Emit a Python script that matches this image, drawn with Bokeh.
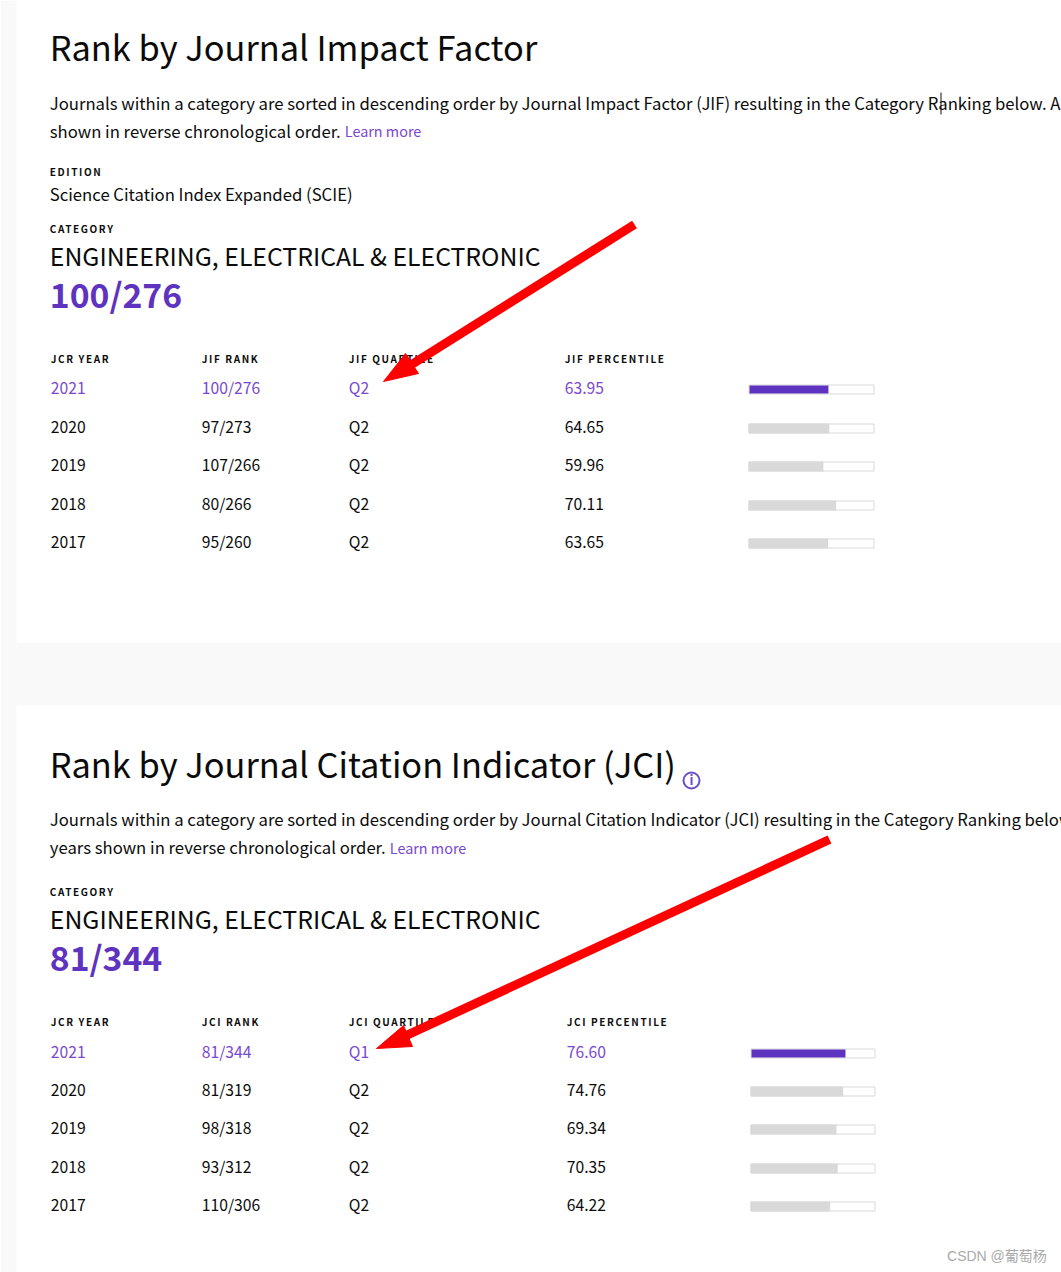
from bokeh.core.properties import value
from bokeh.embed import file_html
from bokeh.layouts import column
from bokeh.models import ColumnDataSource
from bokeh.plotting import figure
from bokeh.resources import INLINE

# ---- data
years = ["2021", "2020", "2019", "2018", "2017"]
jif_ranks = ["100/276", "97/273", "107/266", "80/266", "95/260"]
jif_quartiles = ["Q2", "Q2", "Q2", "Q2", "Q2"]
jif_percentiles = [63.95, 64.65, 59.96, 70.11, 63.65]
jci_ranks = ["81/344", "81/319", "98/318", "93/312", "110/306"]
jci_quartiles = ["Q1", "Q2", "Q2", "Q2", "Q2"]
jci_percentiles = [76.60, 74.76, 69.34, 70.35, 64.22]
jif_headers = ["JCR YEAR", "JIF RANK", "JIF QUARTILE", "JIF PERCENTILE"]
jci_headers = ["JCR YEAR", "JCI RANK", "JCI QUARTILE", "JCI PERCENTILE"]

# ---- page style
FONT = "Noto Sans CJK SC"
INK = "#0b0b0b"
PURPLE = "#7a48cf"
DEEP = "#5e33bf"
GREY = "#d9d9d9"
PAGE = "#f9f9f9"
RED = "#ff0000"
W, H = 1061, 1272
TITLE, BODY, LINK, CAT, BIG, CELL, CAP = 34.4, 16.7, 14.4, 24.8, 33.7, 15.7, 10.0


def make_figure():
    f = figure(
        width=W, height=H, x_range=(0, W), y_range=(H, 0),
        x_axis_type=None, y_axis_type=None, toolbar_location=None,
        output_backend="svg", min_border=0, outline_line_color=None,
    )
    f.grid.visible = False
    return f


p = make_figure()
p.background_fill_color = "white"
p.border_fill_color = "white"

# transparent layer on top: carries the letter-spaced small captions and the arrows
q = make_figure()
q.background_fill_alpha = 0
q.border_fill_alpha = 0
q.styles = {"position": "absolute", "left": "0px", "top": "0px", "letter-spacing": "1.6px"}


def label(x, y, s, size, color=INK, style="normal", align="left", font=FONT, target=None):
    # y is the wanted baseline; Bokeh's box metrics push the text down by a size-related amount
    (target or p).text([x - 0.7], [y - 0.44 * size], text=[s], text_font=value(font),
                       text_font_size="%gpx" % size, text_color=color,
                       text_font_style=style, text_align=align, text_baseline="alphabetic")


def caption(x, y, s):
    label(x, y, s, CAP, style="bold", target=q)


# page background around the white cards
p.quad(left=[0], right=[16], top=[0], bottom=[H], fill_color=PAGE, line_color=None)
p.quad(left=[16], right=[W], top=[642], bottom=[705], fill_color=PAGE, line_color=None)


def table(headers, ranks, quartiles, percentiles, columns, head_y, rows_y, bar_x, bar_w):
    for x, h in zip(columns, headers):
        caption(x, head_y, h)
    for i, y in enumerate(rows_y):
        color = PURPLE if i == 0 else INK
        cells = [years[i], ranks[i], quartiles[i], "%.2f" % percentiles[i]]
        for x, c in zip(columns, cells):
            label(x, y, c, CELL, color=color)
    # the first row is inset in its outline, the others fill it
    inset = [1] + [0] * 4
    src = ColumnDataSource(dict(
        left=[bar_x + d for d in inset],
        right=[bar_x + v / 100 * bar_w for v in percentiles],
        top=[y - 10 + d for y, d in zip(rows_y, inset)],
        bottom=[y - d for y, d in zip(rows_y, inset)],
        color=[DEEP] + [GREY] * 4,
    ))
    p.quad(left=[bar_x + 0.5] * 5, right=[bar_x + bar_w + 0.5] * 5,
           top=[y - 9.5 for y in rows_y], bottom=[y - 0.5 for y in rows_y],
           fill_color="white", line_color=GREY, line_width=1)
    p.quad(left="left", right="right", top="top", bottom="bottom", source=src,
           fill_color="color", line_color=None)


# ---- upper card
label(50, 61, "Rank by Journal Impact Factor", TITLE)
label(50, 110, "Journals within a category are sorted in descending order by Journal Impact Factor (JIF) resulting in the Category Ranking below. A", BODY)
label(50, 137.5, "shown in reverse chronological order.", BODY)
label(345, 136, "Learn more", LINK, color=PURPLE)
caption(50, 175, "EDITION")
label(50, 200.8, "Science Citation Index Expanded (SCIE)", BODY)
caption(50, 232, "CATEGORY")
label(50, 265.2, "ENGINEERING, ELECTRICAL & ELECTRONIC", CAT)
label(50, 308, "100/276", BIG, color=DEEP, style="bold")
table(jif_headers, jif_ranks, jif_quartiles, jif_percentiles,
      [51, 202, 349, 565], 362, [394, 433, 471, 510, 548], 748, 125)
p.line([940.5, 940.5], [92, 114], line_color="#111111", line_width=1)

# ---- lower card
label(50, 778, "Rank by Journal Citation Indicator (JCI)", TITLE)
label(50, 826, "Journals within a category are sorted in descending order by Journal Citation Indicator (JCI) resulting in the Category Ranking below", BODY)
label(50, 854, "years shown in reverse chronological order.", BODY)
label(390, 853, "Learn more", LINK, color=PURPLE)
caption(50, 895, "CATEGORY")
label(50, 928.2, "ENGINEERING, ELECTRICAL & ELECTRONIC", CAT)
label(50, 970.5, "81/344", BIG, color=DEEP, style="bold")
table(jci_headers, jci_ranks, jci_quartiles, jci_percentiles,
      [51, 202, 349, 567], 1025, [1058, 1096, 1134, 1173, 1211], 750, 124)

# info icon
p.scatter([691], [780], size=16, marker="circle", fill_color="white",
          line_color="#6a4fc6", line_width=2)
label(691.7, 785, "i", 13, color="#6a4fc6", style="bold", align="center")

# ---- red annotation arrows
q.line([634, 400], [224, 371], line_color=RED, line_width=9)
q.patch([383, 418, 405], [381, 373, 353], fill_color=RED, line_color=RED, line_width=1)
q.line([829, 395], [839, 1040], line_color=RED, line_width=9)
q.patch([376, 412, 403], [1048, 1046, 1025], fill_color=RED, line_color=RED, line_width=1)

# ---- watermark
label(1047, 1262, "CSDN @葡萄杨", 14, color="#a9a9a9", align="right",
      font="Liberation Sans, Noto Sans CJK SC")

page = column(p, q, width=W, height=H, styles={"position": "relative"})
open("out.html", "w").write(file_html(page, INLINE))
